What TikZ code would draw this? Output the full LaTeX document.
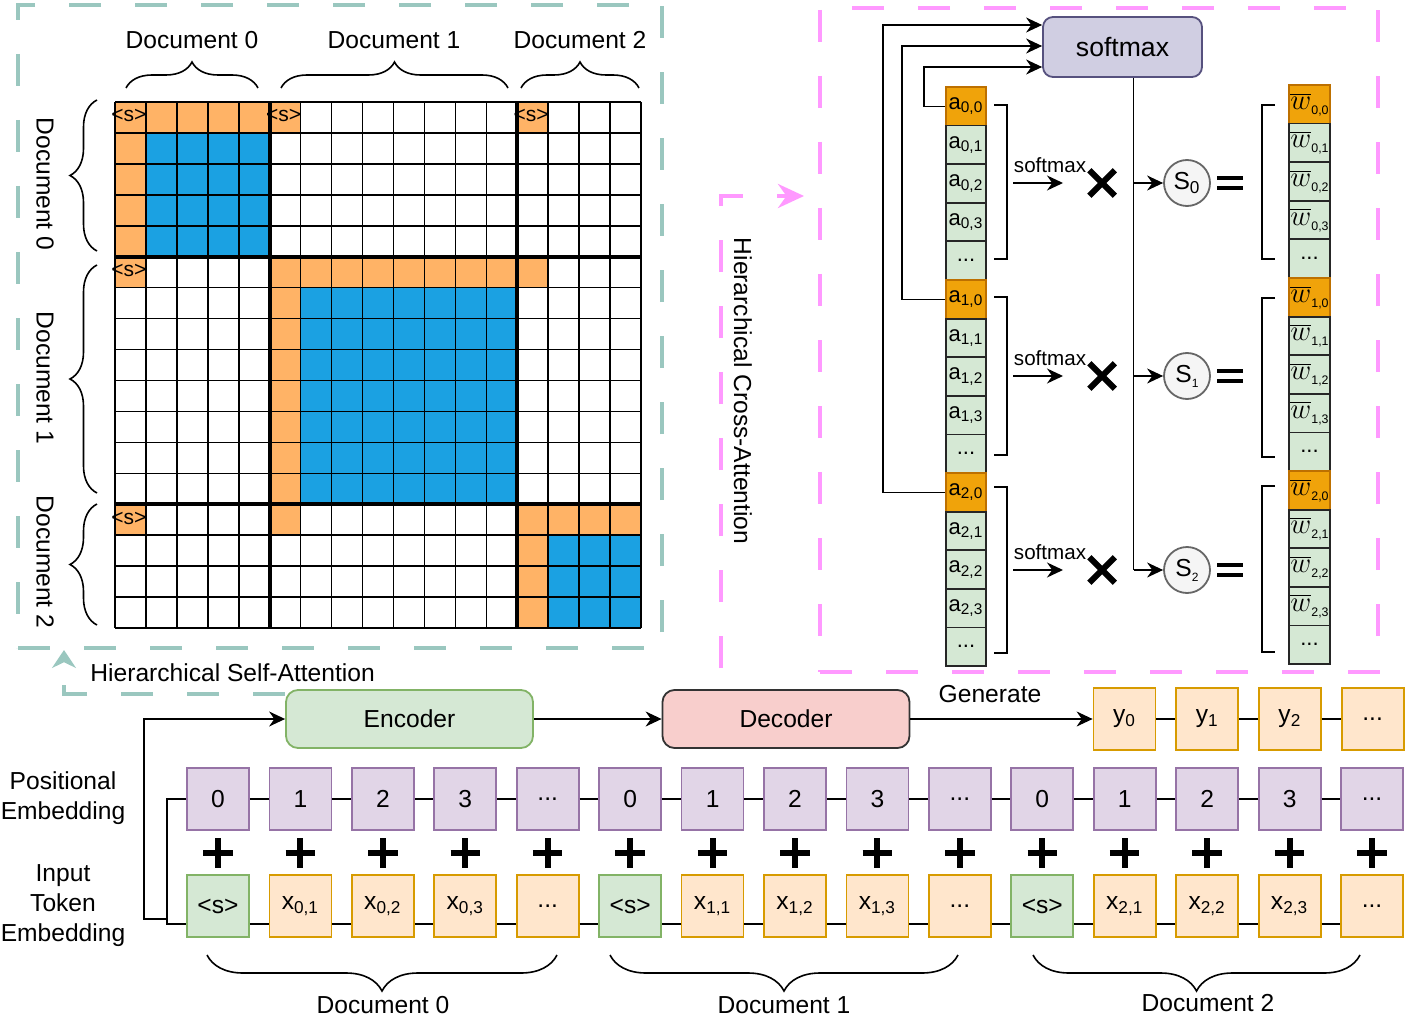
\documentclass[tikz,border=0pt]{standalone}
\usepackage{fontspec}
\setmainfont{Liberation Sans}
\usetikzlibrary{positioning,arrows.meta,decorations.pathreplacing,calc}
\definecolor{mint}{HTML}{9AC7BF}
\definecolor{orchid}{HTML}{FF99FF}
\definecolor{peach}{HTML}{FFB366}
\definecolor{azure}{HTML}{1BA1E2}
\definecolor{amber}{HTML}{F0A30A}
\definecolor{amberline}{HTML}{BD7000}
\definecolor{sage}{HTML}{D5E8D4}
\definecolor{sageline}{HTML}{82B366}
\definecolor{lavender}{HTML}{D0CEE2}
\definecolor{lavline}{HTML}{56517E}
\definecolor{blush}{HTML}{F8CECC}
\definecolor{lilac}{HTML}{E1D5E7}
\definecolor{lilacline}{HTML}{9673A6}
\definecolor{cream}{HTML}{FFE6CC}
\definecolor{creamline}{HTML}{D79B00}
\definecolor{smoke}{HTML}{F5F5F5}
\newcommand{\midfont}{\fontsize{12.3}{15}\selectfont}
\newcommand{\wbar}[1]{{\fontsize{14}{15}\selectfont$\overline{w}$}\raisebox{-2.5pt}{\fontsize{6.2}{7}\selectfont #1}}

\begin{document}
\begin{tikzpicture}[x=0.5pt, y=-0.5pt, line width=0.75pt,
    every node/.style={font=\midfont},
    arr/.style={-{Stealth[length=8pt, width=7.5pt]}},
    curly/.style={decorate, decoration={brace, amplitude=#1}, line width=0.8pt},
    dashline/.style={line width=2pt, dash pattern=on 16pt off 17pt},
    acell/.style={draw=black!85, fill=sage, minimum width=20pt, minimum height=19.3pt,
        inner sep=0pt, line width=0.9pt, font=\fontsize{11}{12}\selectfont},
    bigbox/.style={rounded corners=6pt, minimum width=123.5pt, minimum height=29pt, line width=0.9pt},
    posbox/.style={draw=lilacline, fill=lilac, minimum size=31pt, inner sep=0pt, line width=0.9pt},
    tokbox/.style={draw=creamline, fill=cream, minimum size=31pt, inner sep=0pt, line width=0.9pt},
    sball/.style={circle, draw=black!60, fill=smoke, minimum size=23pt, inner sep=0pt, line width=0.9pt}]
    \useasboundingbox (0,0) rectangle (1407,1016);

    % Self-attention mask (17 x 17 cells)
    \begin{scope}[shift={(115,102)}, x=15.47pt, y=-15.47pt]
        \foreach \s/\n in {0/5, 5/8, 13/4} {
            \pgfmathsetmacro{\e}{\s+\n}
            \fill[peach] (\s,\s) rectangle (\e,\s+1);
            \fill[peach] (\s,\s+1) rectangle (\s+1,\e);
            \fill[azure] (\s+1,\s+1) rectangle (\e,\e);
        }
        % <s> tokens see each other
        \foreach \r in {0,5,13} {
            \foreach \c in {0,5,13} {
                \fill[peach] (\c,\r) rectangle (\c+1,\r+1);
            }
        }
        \foreach \k in {0,...,17} {
            \draw (\k,0) -- (\k,17);
            \draw (0,\k) -- (17,\k);
        }
        \foreach \k in {5,13} {
            \draw[line width=2pt] (\k,0) -- (\k,17);
            \draw[line width=2pt] (0,\k) -- (17,\k);
        }
        \foreach \r/\c [count=\n] in {0/0, 0/5, 0/13, 5/0, 13/0} {
            \node[inner sep=0pt, font=\fontsize{10.5}{11}\selectfont] (sg\n) at (\c+0.45,\r+0.45) {<s>};
        }
    \end{scope}

    % Document braces round the mask
    \draw[curly=13pt] (126,88) -- (258,88);
    \draw[curly=13pt] (281,88) -- (508,88);
    \draw[curly=13pt] (521,88) -- (639,88);
    \node (dtop0) at (192,40) {Document 0};
    \node (dtop1) at (394,40) {Document 1};
    \node (dtop2) at (580,40) {Document 2};
    \draw[curly=13.5pt] (97,251) -- (97,100);
    \draw[curly=13.5pt] (97,493) -- (97,265);
    \draw[curly=13.5pt] (97,625) -- (97,504);
    \node[rotate=-90] (dside0) at (45,184) {Document 0};
    \node[rotate=-90] (dside1) at (45,378) {Document 1};
    \node[rotate=-90] (dside2) at (45,562) {Document 2};

    % Dashed frames
    \node[draw=mint, dashline, minimum width=322pt, minimum height=321.5pt, inner sep=0pt] (sabox) at (340,326.5) {};
    \node[draw=orchid, dashline, minimum width=279pt, minimum height=332pt, inner sep=0pt] (cabox) at (1099,340) {};
    \node[rotate=-90] (calbl) at (743,391) {Hierarchical Cross-Attention};

    % Softmax over the <s> scores
    \node[draw=lavline, fill=lavender, rounded corners=5pt, minimum width=79.5pt, minimum height=30pt,
        line width=0.9pt, font=\fontsize{13.3}{15}\selectfont] (smax) at (1122.5,47) {softmax};

    \foreach \d in {0,1,2} {
        \foreach \k in {0,...,4} {
            \pgfmathsetmacro{\y}{87 + (5*\d+\k+0.5)*38.6}
            \pgfmathsetmacro{\yw}{85 + (5*\d+\k+0.5)*38.6}
            \ifnum\k=0
                \node[acell, fill=amber, draw=amberline] (a\d\k) at (966,\y) {a\textsubscript{\d,\k}};
                \node[acell, minimum width=20.5pt, fill=amber, draw=amberline] (w\d\k) at (1309.5,\yw) {\wbar{\d,\k}};
            \else\ifnum\k=4
                \node[acell] (a\d\k) at (966,\y) {...};
                \node[acell, minimum width=20.5pt] (w\d\k) at (1309.5,\yw) {...};
            \else
                \node[acell] (a\d\k) at (966,\y) {a\textsubscript{\d,\k}};
                \node[acell, minimum width=20.5pt] (w\d\k) at (1309.5,\yw) {\wbar{\d,\k}};
            \fi\fi
        }
    }

    % Brackets
    \foreach \t/\b in {105/259, 297/455, 487/653} {
        \draw (994,\t) -- (1007,\t) -- (1007,\b) -- (994,\b);
    }
    \foreach \t/\b in {105/259, 298/457, 486/652} {
        \draw (1275,\t) -- (1262,\t) -- (1262,\b) -- (1275,\b);
    }

    % <s> scores into softmax
    \draw[arr] (a20.west) -- ++(-31pt,0) |- ([yshift=11pt]smax.west);
    \draw[arr] (a10.west) -- ++(-21.5pt,0) |- ([yshift=0.5pt]smax.west);
    \draw[arr] (a00.west) -- ++(-10.5pt,0) |- ([yshift=-10pt]smax.west);
    \draw ([xshift=5.5pt]smax.south) -- ([xshift=5.5pt]smax.south |- 0,570);

    \foreach \d/\y in {0/183, 1/376, 2/570} {
        \node[font=\fontsize{10.3}{11}\selectfont] (smlbl\d) at (1050,\y-18) {softmax};
        \coordinate (sm\d) at (1013,\y);
        \draw[arr] (sm\d) -- ++(25pt,0);
        \node[minimum size=12pt, inner sep=0pt] (mul\d) at (1102,\y) {};
        \draw[line width=3pt] (mul\d.north west) -- (mul\d.south east) (mul\d.north east) -- (mul\d.south west);
        \ifnum\d=0
            \node[sball] (s\d) at (1187,\y) {S\textsubscript{\d}};
        \else
            \node[sball] (s\d) at (1187,\y) {S\raisebox{-2.5pt}{\fontsize{6}{7}\selectfont\d}};
        \fi
        \draw[arr] ([xshift=5.5pt]smax.south |- s\d.west) -- (s\d.west);
        \node[minimum width=12pt, inner sep=0pt] (eq\d) at (1230,\y) {};
        \draw[line width=2pt] ([yshift=2.5pt]eq\d.west) -- ([yshift=2.5pt]eq\d.east)
            ([yshift=-2.5pt]eq\d.west) -- ([yshift=-2.5pt]eq\d.east);
    }

    % Encoder / decoder
    \node[bigbox, fill=sage, draw=sageline] (enc) at (409.5,719) {Encoder};
    \node[bigbox, fill=blush, draw=black!80] (dec) at (786,719) {Decoder};
    \draw[arr] (enc) -- (dec);
    \node (gen) at (990,694) {Generate};
    \foreach \i in {0,...,3} {
        \pgfmathsetmacro{\x}{1124.5 + \i*82.7}
        \ifnum\i=3
            \node[tokbox] (y\i) at (\x,719) {...};
        \else
            \node[tokbox] (y\i) at (\x,719) {y\textsubscript{\i}};
        \fi
    }
    \foreach \i/\j in {0/1, 1/2, 2/3} {
        \draw (y\i) -- (y\j);
    }
    \draw[arr] (dec) -- (y0);

    % Hierarchical attention links
    \draw[mint, dashline, -{Stealth[length=9pt, width=12pt]}] ([yshift=-2.5pt]enc.north west) -| ([xshift=24pt]sabox.south west);
    \node[anchor=west] (salbl) at (83,673) {Hierarchical Self-Attention};
    \coordinate (cafrom) at (721,668);
    \draw[orchid, dashline, -{Stealth[length=13pt, width=12pt]}] (cafrom) |- ([xshift=-7pt, yshift=72pt]cabox.west);

    % Embedding rows
    \foreach \i in {0,...,14} {
        \pgfmathsetmacro{\x}{218 + \i*82.43}
        \pgfmathtruncatemacro{\d}{int(\i/5)}
        \pgfmathtruncatemacro{\k}{mod(\i,5)}
        \ifnum\k=4
            \node[posbox] (p\i) at (\x,799) {...};
            \node[tokbox] (t\i) at (\x,906) {...};
        \else\ifnum\k=0
            \node[posbox] (p\i) at (\x,799) {\k};
            \node[tokbox, fill=sage, draw=sageline] (t\i) at (\x,906) {<s>};
        \else
            \node[posbox] (p\i) at (\x,799) {\k};
            \node[tokbox] (t\i) at (\x,906) {x\textsubscript{\d,\k}};
        \fi\fi
        \node[minimum size=14pt, inner sep=0pt] (plus\i) at (\x,853) {};
        \draw[line width=3pt] (plus\i.north) -- (plus\i.south) (plus\i.west) -- (plus\i.east);
    }
    \foreach \i in {0,...,13} {
        \pgfmathtruncatemacro{\j}{\i+1}
        \draw (p\i) -- (p\j);
        \draw ([yshift=-9pt]t\i.east) -- ([yshift=-9pt]t\j.west);
    }
    \draw (p0.west) -- ++(-9.5pt,0) |- ([yshift=-9pt]t0.west);
    \coordinate (feed) at ([xshift=-9.5pt, yshift=-6.5pt]t0.west);
    \draw[arr] (feed) -- ++(-11.5pt,0) |- (enc.west);
    \node[align=center] (poslbl) at (63,798) {Positional\\Embedding};
    \node[align=center] (toklbl) at (63,906) {Input\\Token\\Embedding};

    % Document braces under the input
    \draw[curly=18pt] (557,955) -- (207,955);
    \draw[curly=18pt] (958,955) -- (610,955);
    \draw[curly=18pt] (1360,955) -- (1033,955);
    \node (dbot0) at (383,1005) {Document 0};
    \node (dbot1) at (784,1005) {Document 1};
    \node (dbot2) at (1208,1003) {Document 2};
\end{tikzpicture}
\end{document}
